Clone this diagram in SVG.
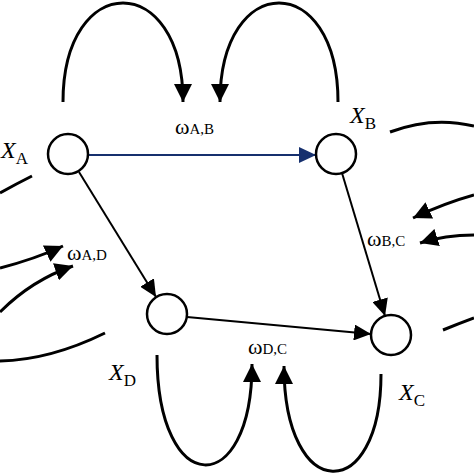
<svg xmlns="http://www.w3.org/2000/svg" width="474" height="474" viewBox="0 0 474 474">
<style>
.node{fill:#fff;stroke:#000;stroke-width:2.5}
.edge{fill:none;stroke:#000;stroke-width:2}
.blue{fill:none;stroke:#16306e;stroke-width:2}
.loop{fill:none;stroke:#000;stroke-width:3}
.lab{font-family:"Liberation Serif",serif;font-size:24px;font-style:italic;fill:#000}
.sub{font-style:normal;font-size:17px}
.w{font-family:"Liberation Serif",serif;font-size:22px;fill:#000}
.ws{font-size:15px}
</style>
<defs>
<marker id="ah" markerUnits="userSpaceOnUse" markerWidth="18" markerHeight="16" refX="17" refY="8" orient="auto"><path d="M0,0 L17,8 L0,16 Z" fill="#000"/></marker>
<marker id="ahb" markerUnits="userSpaceOnUse" markerWidth="18" markerHeight="16" refX="17" refY="8" orient="auto"><path d="M0,0 L17,8 L0,16 Z" fill="#16306e"/></marker>
<marker id="al" markerUnits="userSpaceOnUse" markerWidth="19" markerHeight="18" refX="18" refY="9" orient="auto"><path d="M0,0 L18,9 L0,18 Z" fill="#000"/></marker>
</defs>
<g id="connectors">
<path class="blue" d="M89,155 L316,155" marker-end="url(#ahb)"/>
<path class="edge" d="M79,172 L156,297" marker-end="url(#ah)"/>
<path class="edge" d="M342,173 L385,316" marker-end="url(#ah)"/>
<path class="edge" d="M187,317 L371,334" marker-end="url(#ah)"/>
<path class="loop" d="M63,102 C63,-30 183,-30 183,102" marker-end="url(#al)"/>
<path class="loop" d="M338,102 C338,-30 220,-30 220,102" marker-end="url(#al)"/>
<path class="loop" d="M157,355 C157,500 252,500 252,364" marker-end="url(#al)"/>
<path class="loop" d="M381,374 C381,505 284,505 284,366" marker-end="url(#al)"/>
<path class="loop" d="M0,193 Q16,184 32,176"/>
<path class="loop" d="M0,268 Q35,259 63,246" marker-end="url(#al)"/>
<path class="loop" d="M0,312 Q32,280 73,266" marker-end="url(#al)"/>
<path class="loop" d="M0,361 Q50,360 105,333"/>
<path class="loop" d="M390,132 Q432,116 474,126"/>
<path class="loop" d="M474,195 Q445,203 413,218" marker-end="url(#al)"/>
<path class="loop" d="M474,235 Q445,235 420,243" marker-end="url(#al)"/>
<path class="loop" d="M443,330 Q458,324 474,318"/>
</g>
<g id="node-A"><circle class="node" cx="68" cy="154" r="20"/><text class="lab" x="1" y="158">X<tspan class="sub" dy="6">A</tspan></text></g>
<g id="node-B"><circle class="node" cx="336" cy="154" r="20"/><text class="lab" x="350" y="123">X<tspan class="sub" dy="6">B</tspan></text></g>
<g id="node-C"><circle class="node" cx="391" cy="335" r="20"/><text class="lab" x="399" y="400">X<tspan class="sub" dy="6">C</tspan></text></g>
<g id="node-D"><circle class="node" cx="167" cy="314" r="20"/><text class="lab" x="109" y="380">X<tspan class="sub" dy="6">D</tspan></text></g>
<g id="weights">
<text class="w" x="175" y="134">ω<tspan class="ws">A,B</tspan></text>
<text class="w" x="367" y="246">ω<tspan class="ws">B,C</tspan></text>
<text class="w" x="67" y="260">ω<tspan class="ws">A,D</tspan></text>
<text class="w" x="248" y="354">ω<tspan class="ws">D,C</tspan></text>
</g>
</svg>
